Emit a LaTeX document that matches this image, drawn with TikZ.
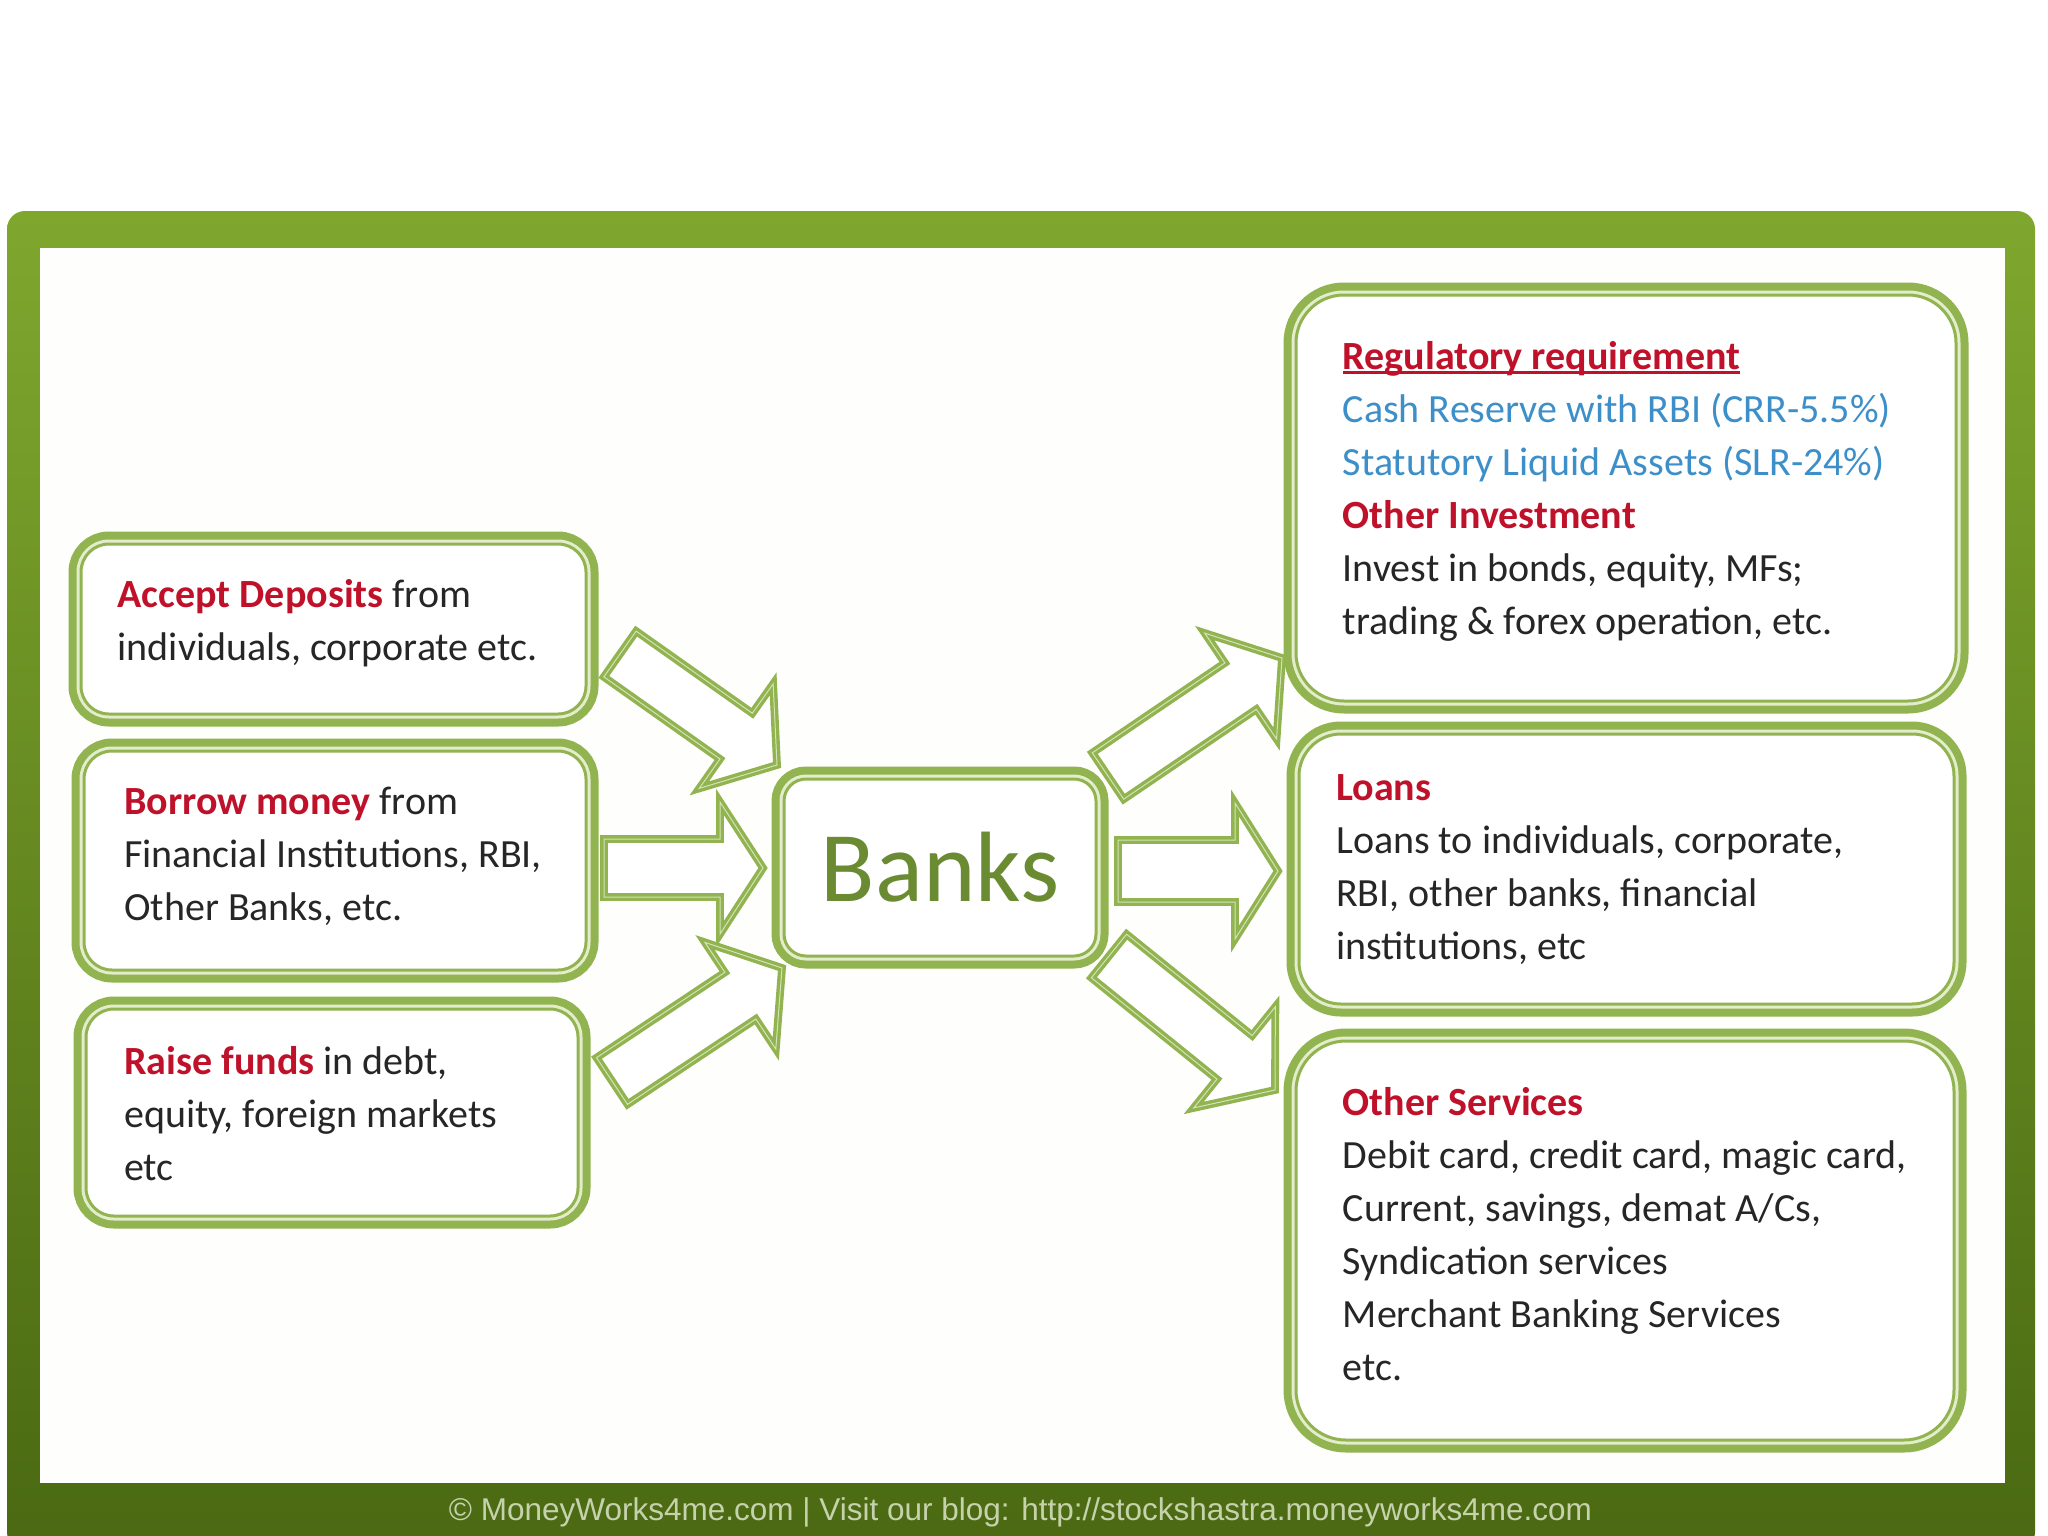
\documentclass[tikz,border=0pt]{standalone}
\usepackage{fontspec}
\setmainfont{Carlito}
\newfontfamily\footfont{Liberation Sans}
\usetikzlibrary{calc}
\definecolor{boxgreen}{HTML}{91B350}
\definecolor{gapgreen}{HTML}{E3EDCC}
\definecolor{arrowgreen}{HTML}{91B350}
\definecolor{arrowlight}{HTML}{D3E3B5}
\definecolor{banksgreen}{HTML}{6B8B33}
\definecolor{headred}{HTML}{C0112B}
\definecolor{cblue}{HTML}{3D8FC9}
\definecolor{bodytxt}{HTML}{262626}
\definecolor{frametop}{HTML}{7FA72E}
\definecolor{framebot}{HTML}{4A6912}
\definecolor{foottxt}{HTML}{C6D2AC}
\definecolor{innerwhite}{HTML}{FEFEFC}
\newcommand\hd[1]{{\bfseries\color{headred}#1}}
\newcommand\myul[1]{\setbox0\hbox{#1}\rlap{\color{headred}\rule[-4.5pt]{\wd0}{2.5pt}}\box0}
\newcommand\barrow[5]{%
  \coordinate (#1-b) at ($(#2)!#3pt!(#1)$);
  \draw[arrowline] ($(#1)!#4pt!90:(#2)$) -- ($(#1-b)!#4pt!90:(#2)$) -- ($(#1-b)!#5pt!90:(#2)$) -- (#2) -- ($(#1-b)!#5pt!-90:(#2)$) -- ($(#1-b)!#4pt!-90:(#2)$) -- ($(#1)!#4pt!-90:(#2)$) -- cycle;
}
\tikzset{
  gbox/.style={rectangle, rounded corners=#1, fill=white, draw=boxgreen, line width=3pt,
    preaction={draw=boxgreen, line width=25pt},
    preaction={draw=gapgreen, line width=9pt}, inner sep=0pt},
  txt/.style={anchor=west, align=left, inner sep=0pt, text=bodytxt,
    font=\fontsize{40}{53}\selectfont},
  arrowline/.style={draw=arrowgreen, fill=white, line width=3.4pt,
    double=arrowlight, double distance=1pt, line join=miter},
}
\begin{document}
\begin{tikzpicture}[x=1pt,y=-1pt]
\useasboundingbox (0,0) rectangle (2048,1536);
\clip (0,0) rectangle (2048,1536);
\fill[white] (0,0) rectangle (2048,1536);
\shade[top color=frametop,bottom color=framebot,rounded corners=18pt] (7,211) rectangle (2035,1550);
\fill[innerwhite] (40,248) rectangle (2005,1483);

% arrow end points
\coordinate (a1s) at (620,654);   \coordinate (a1t) at (777,765);
\coordinate (a2s) at (604,868);   \coordinate (a2t) at (763,868);
\coordinate (a3s) at (612,1081);  \coordinate (a3t) at (782,968);
\coordinate (a4s) at (1108,776);  \coordinate (a4t) at (1282,658);
\coordinate (a5s) at (1118,871);  \coordinate (a5t) at (1278,871);
\coordinate (a6s) at (1109,956);  \coordinate (a6t) at (1275,1090);
\barrow{a1s}{a1t}{50}{28}{64}
\barrow{a2s}{a2t}{43}{29}{66}
\barrow{a3s}{a3t}{50}{28}{64}
\barrow{a4s}{a4t}{50}{28}{64}
\barrow{a5s}{a5t}{43}{31}{68}
\barrow{a6s}{a6t}{52}{28}{65}

% boxes
\node[gbox=28pt, minimum width=505pt, minimum height=170pt] (dep) at (333.5,629) {};
\node[gbox=28pt, minimum width=502pt, minimum height=219pt] (bor) at (335,860.5) {};
\node[gbox=28pt, minimum width=492pt, minimum height=207pt] (rai) at (332,1112.5) {};
\node[gbox=22pt, minimum width=312pt, minimum height=177pt, text=banksgreen,
      font=\fontsize{100}{110}\selectfont] (banks) at (940,867.5) {Banks};
\node[gbox=48pt, minimum width=660pt, minimum height=406pt] (reg) at (1626,498) {};
\node[gbox=42pt, minimum width=655pt, minimum height=270pt] (loa) at (1626.5,869) {};
\node[gbox=50pt, minimum width=658pt, minimum height=399pt] (oth) at (1625,1240.5) {};

% texts
\node[txt] (tdep) at (117.5,623) {\hd{Accept Deposits} from\\individuals, corporate etc.};
\node[txt] (tbor) at (124,856) {\hd{Borrow money} from\\Financial Institutions, RBI,\\Other Banks, etc.};
\node[txt] (trai) at (124,1113.5) {\hd{Raise funds} in debt,\\equity, foreign markets\\etc};
\node[txt] (treg) at (1342.6,491) {\myul{\hd{Regulatory requirement}}\\
  {\color{cblue}Cash Reserve with RBI (CRR-5.5\%)}\\
  {\color{cblue}Statutory Liquid Assets (SLR-24\%)}\\
  \hd{Other Investment}\\
  Invest in bonds, equity, MFs;\\
  trading \& forex operation, etc.};
\node[txt] (tloa) at (1336,870) {\hd{Loans}\\Loans to individuals, corporate,\\RBI, other banks, financial\\institutions, etc};
\node[txt] (toth) at (1342.6,1234) {\hd{Other Services}\\Debit card, credit card, magic card,\\Current, savings, demat A/Cs,\\Syndication services\\Merchant Banking Services\\etc.};

% footer
\node[text=foottxt, inner sep=0pt, font=\footfont\fontsize{31.5}{36}\selectfont] (foot) at (1020.5,1512)
  {© MoneyWorks4me.com | Visit our blog: http://stockshastra.moneyworks4me.com};
\end{tikzpicture}
\end{document}
